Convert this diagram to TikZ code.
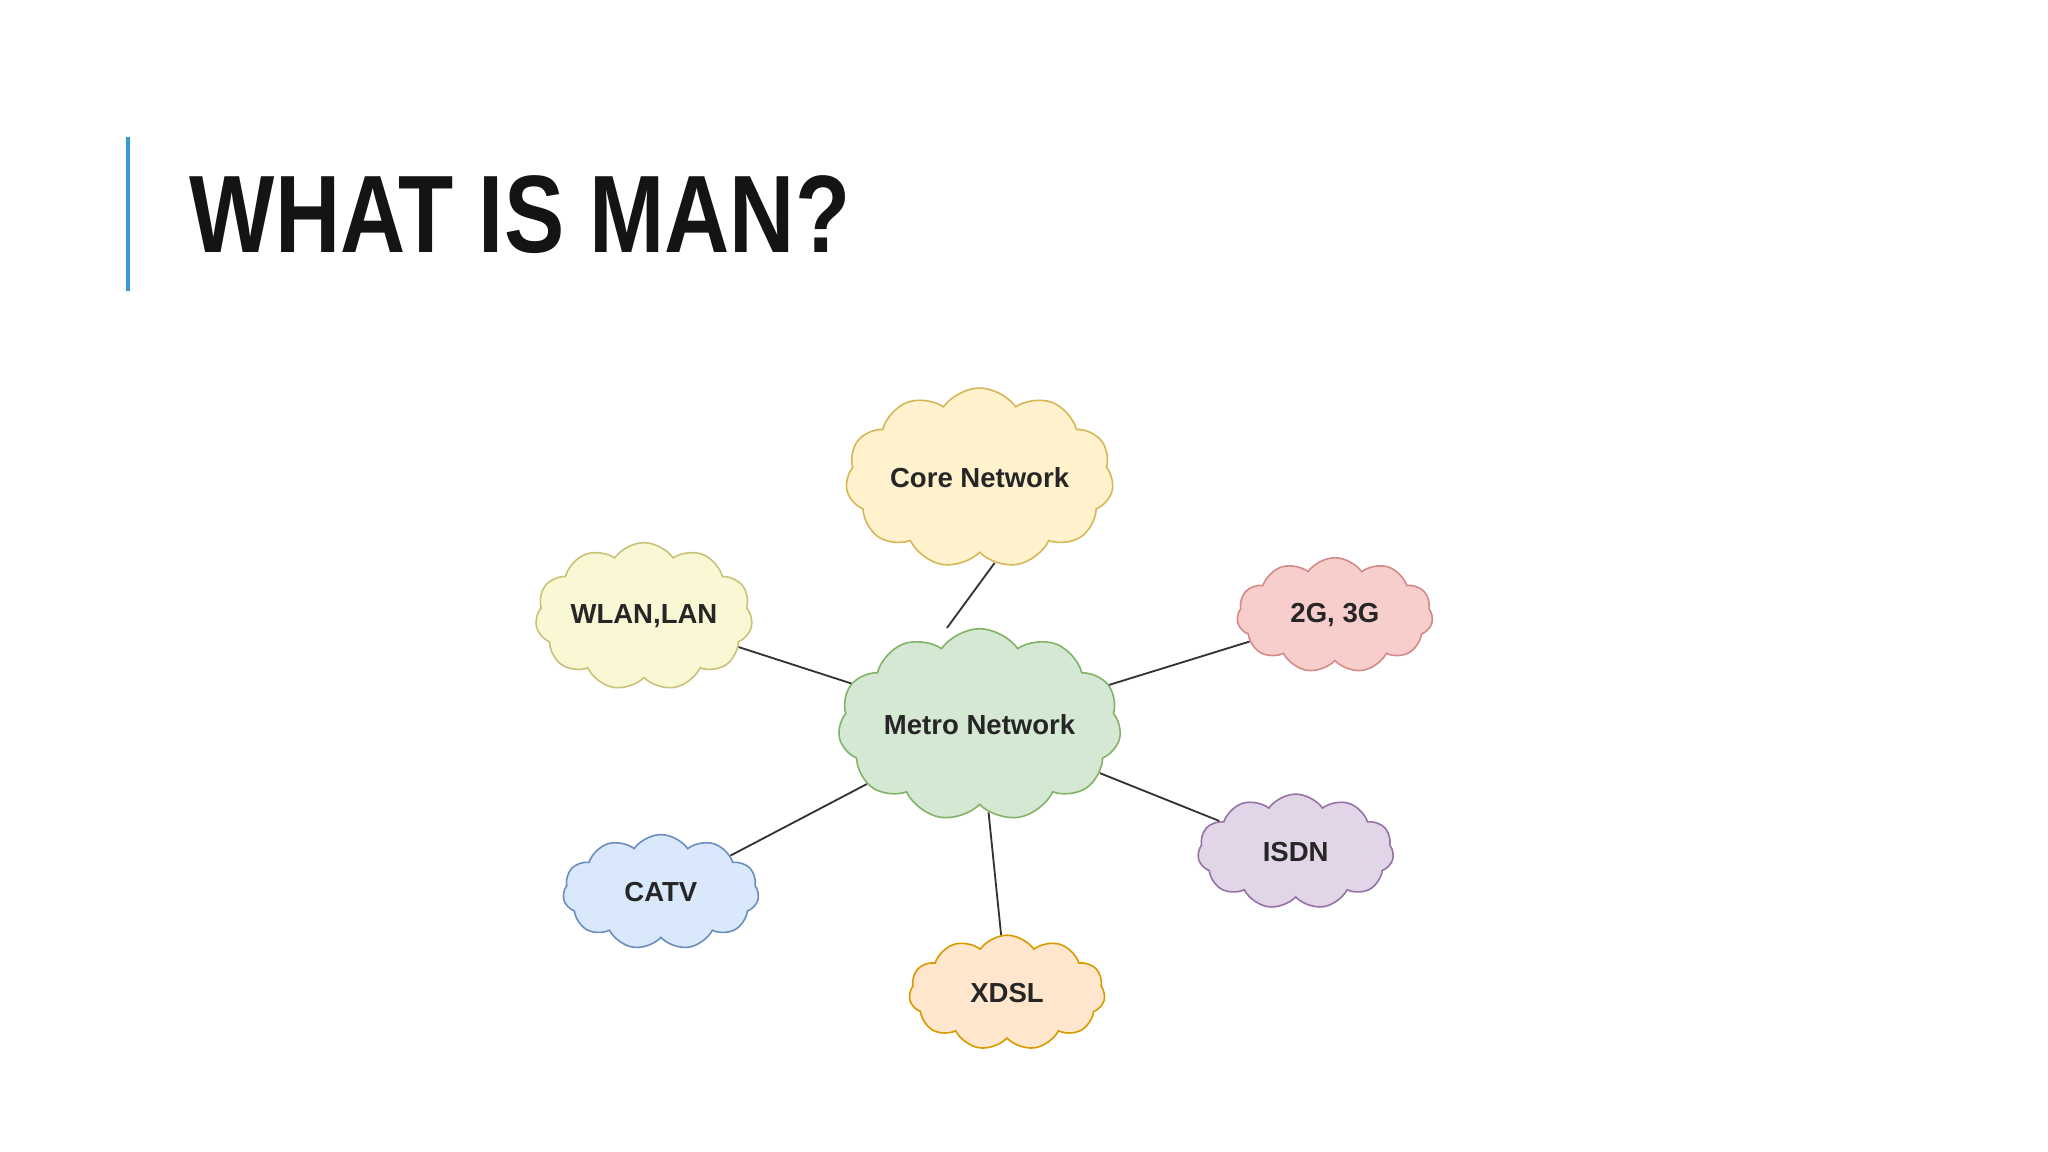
\documentclass[tikz,border=0pt]{standalone}
\usepackage{fontspec}
\setmainfont{Liberation Sans}
\usetikzlibrary{shapes.symbols}
\definecolor{bar}{HTML}{3A9AD9}
\definecolor{d1}{HTML}{D6B656}\definecolor{f1}{HTML}{FFF2CC}
\definecolor{d2}{HTML}{C9C27A}\definecolor{f2}{HTML}{FAF8D4}
\definecolor{d3}{HTML}{D48A86}\definecolor{f3}{HTML}{F8CECC}
\definecolor{d4}{HTML}{82B366}\definecolor{f4}{HTML}{D5E8D4}
\definecolor{d5}{HTML}{9673A6}\definecolor{f5}{HTML}{E1D5E7}
\definecolor{d6}{HTML}{6C8EBF}\definecolor{f6}{HTML}{DAE8FC}
\definecolor{d7}{HTML}{D79B00}\definecolor{f7}{HTML}{FFE6CC}
\tikzset{
 cl/.style={cloud, cloud puffs=11, cloud puff arc=110, aspect=1.7, draw=#1, line width=0.7pt, inner sep=0pt, minimum width=3cm, minimum height=1.76cm, font=\fontsize{12}{14}\selectfont\bfseries, text=black!85},
 lk/.style={draw=black!80, line width=0.8pt}
}
\begin{document}
\begin{tikzpicture}[x=0.02cm,y=-0.02cm]
\useasboundingbox (0,0) rectangle (1568,882);
\fill[white] (0,0) rectangle (1568,882);
\draw[bar, line width=1.5pt] (98,105) -- (98,223);
\node[anchor=base west, inner sep=0, font=\fontsize{48}{50}\selectfont\bfseries, xscale=0.82, text=black!92] (title) at (145,193) {WHAT IS MAN?};
\node[cl=d1, fill=f1, minimum width=4.1cm, minimum height=2.2cm] (core) at (750,366) {Core Network};
\node[cl=d2, fill=f2] (wlan) at (493,472) {WLAN,LAN};
\node[cl=d3, fill=f3] (g) at (1022,471) {2G, 3G};
\node[cl=d4, fill=f4, minimum width=4.1cm, minimum height=2.55cm] (metro) at (750,555) {Metro Network};
\node[cl=d5, fill=f5] (isdn) at (992,652) {ISDN};
\node[cl=d6, fill=f6] (catv) at (506,683) {CATV};
\node[cl=d7, fill=f7] (xdsl) at (771,760) {XDSL};
\draw[lk] (metro.north) ++(-25,0) coordinate (mtop) -- (core.-80);
\draw[lk] (metro) -- (wlan);
\draw[lk] (metro) -- (g);
\draw[lk] (metro) -- (isdn);
\draw[lk] (metro) -- (catv);
\draw[lk] (metro) -- (xdsl);
\end{tikzpicture}
\end{document}
